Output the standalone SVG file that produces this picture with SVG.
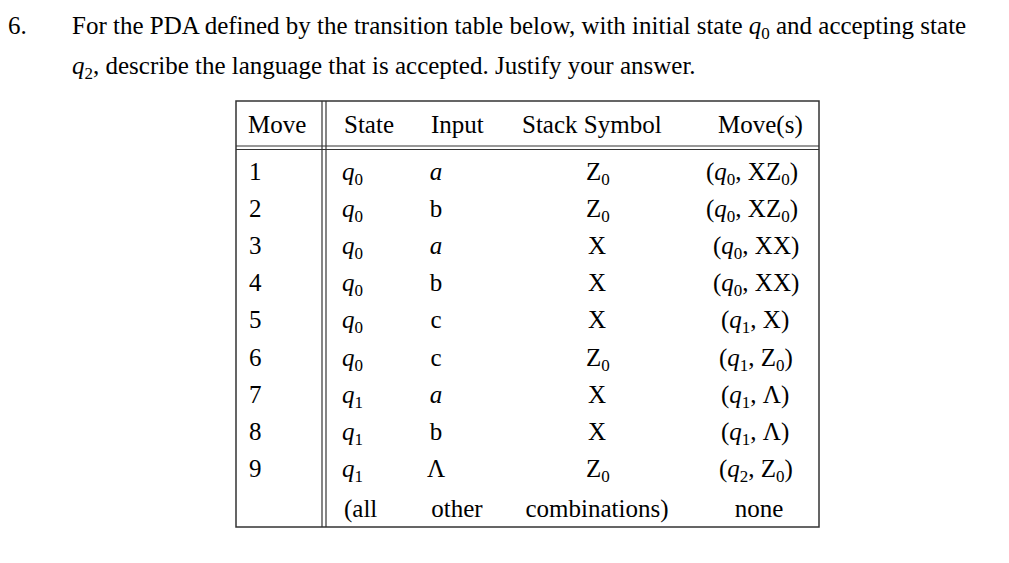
<svg xmlns="http://www.w3.org/2000/svg" width="1009" height="563" viewBox="0 0 1009 563">
<style>
text,tspan{font-family:"Liberation Serif","Times New Roman",serif}
text{font-size:25px;fill:#000}
.i{font-style:italic}
.s{font-size:17px;font-style:normal}
.m{text-anchor:middle}
line{stroke:#333;stroke-width:1.2}
</style>
<rect width="1009" height="563" fill="#fff"/>
<text x="8" y="34">6.</text>
<text x="72" y="34">For the PDA defined by the transition table below, with initial state <tspan class="i">q</tspan><tspan class="s" dy="5">0</tspan><tspan dy="-5"> and accepting state</tspan></text>
<text x="72" y="74"><tspan class="i">q</tspan><tspan class="s" dy="5">2</tspan><tspan dy="-5">, describe the language that is accepted.  Justify your answer.</tspan></text>
<g id="table">
<rect x="236" y="101" width="583" height="426" fill="none" stroke="#333" stroke-width="1.5"/>
<line x1="236" y1="146" x2="819" y2="146"/>
<line x1="236" y1="149.5" x2="819" y2="149.5"/>
<line x1="322" y1="101" x2="322" y2="527"/>
<line x1="326" y1="101" x2="326" y2="527"/>
<text x="248" y="133">Move</text>
<text x="344" y="133">State</text>
<text x="431" y="133">Input</text>
<text x="522" y="133">Stack Symbol</text>
<text x="718" y="133">Move(s)</text>
<g id="rows">
<text x="249" y="180">1</text><text x="249" y="217">2</text><text x="249" y="254">3</text>
<text x="249" y="291">4</text><text x="249" y="328">5</text><text x="249" y="366">6</text>
<text x="249" y="403">7</text><text x="249" y="440">8</text><text x="249" y="477">9</text>

<text x="342" y="180" class="i">q<tspan class="s" dy="5">0</tspan></text>
<text x="342" y="217" class="i">q<tspan class="s" dy="5">0</tspan></text>
<text x="342" y="254" class="i">q<tspan class="s" dy="5">0</tspan></text>
<text x="342" y="291" class="i">q<tspan class="s" dy="5">0</tspan></text>
<text x="342" y="328" class="i">q<tspan class="s" dy="5">0</tspan></text>
<text x="342" y="366" class="i">q<tspan class="s" dy="5">0</tspan></text>
<text x="342" y="403" class="i">q<tspan class="s" dy="5">1</tspan></text>
<text x="342" y="440" class="i">q<tspan class="s" dy="5">1</tspan></text>
<text x="342" y="477" class="i">q<tspan class="s" dy="5">1</tspan></text>
<text x="344" y="517">(all</text>

<text x="436" y="180" class="m i">a</text><text x="436" y="217" class="m">b</text>
<text x="436" y="254" class="m i">a</text><text x="436" y="291" class="m">b</text>
<text x="436" y="328" class="m">c</text><text x="436" y="366" class="m">c</text>
<text x="436" y="403" class="m i">a</text><text x="436" y="440" class="m">b</text>
<text x="436" y="477" class="m">Λ</text>
<text x="457" y="517" class="m">other</text>

<text x="586" y="180">Z<tspan class="s" dy="5">0</tspan></text>
<text x="586" y="217">Z<tspan class="s" dy="5">0</tspan></text>
<text x="597" y="254" class="m">X</text>
<text x="597" y="291" class="m">X</text>
<text x="597" y="328" class="m">X</text>
<text x="586" y="366">Z<tspan class="s" dy="5">0</tspan></text>
<text x="597" y="403" class="m">X</text>
<text x="597" y="440" class="m">X</text>
<text x="586" y="477">Z<tspan class="s" dy="5">0</tspan></text>
<text x="597" y="517" class="m">combinations)</text>

<text x="706" y="180">(<tspan class="i">q</tspan><tspan class="s" dy="5">0</tspan><tspan dy="-5">, XZ</tspan><tspan class="s" dy="5">0</tspan><tspan dy="-5">)</tspan></text>
<text x="706" y="217">(<tspan class="i">q</tspan><tspan class="s" dy="5">0</tspan><tspan dy="-5">, XZ</tspan><tspan class="s" dy="5">0</tspan><tspan dy="-5">)</tspan></text>
<text x="713" y="254">(<tspan class="i">q</tspan><tspan class="s" dy="5">0</tspan><tspan dy="-5">, XX)</tspan></text>
<text x="713" y="291">(<tspan class="i">q</tspan><tspan class="s" dy="5">0</tspan><tspan dy="-5">, XX)</tspan></text>
<text x="721" y="328">(<tspan class="i">q</tspan><tspan class="s" dy="5">1</tspan><tspan dy="-5">, X)</tspan></text>
<text x="719" y="366">(<tspan class="i">q</tspan><tspan class="s" dy="5">1</tspan><tspan dy="-5">, Z</tspan><tspan class="s" dy="5">0</tspan><tspan dy="-5">)</tspan></text>
<text x="721" y="403">(<tspan class="i">q</tspan><tspan class="s" dy="5">1</tspan><tspan dy="-5">, Λ)</tspan></text>
<text x="721" y="440">(<tspan class="i">q</tspan><tspan class="s" dy="5">1</tspan><tspan dy="-5">, Λ)</tspan></text>
<text x="719" y="477">(<tspan class="i">q</tspan><tspan class="s" dy="5">2</tspan><tspan dy="-5">, Z</tspan><tspan class="s" dy="5">0</tspan><tspan dy="-5">)</tspan></text>
<text x="759" y="517" class="m">none</text>
</g>
</g>
</svg>
